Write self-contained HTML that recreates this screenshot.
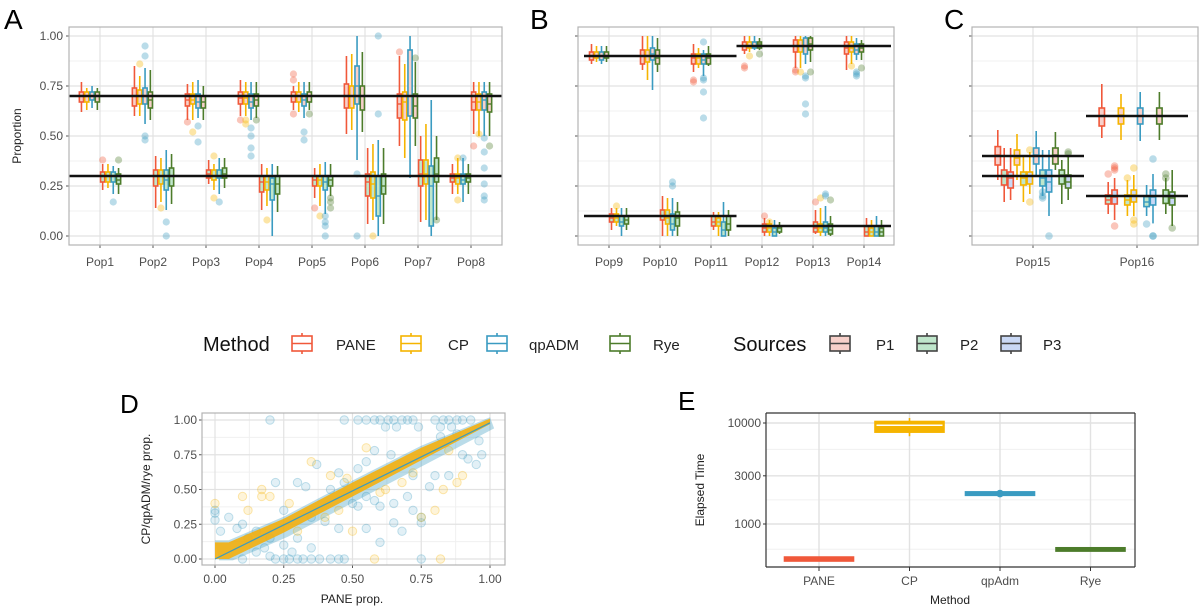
<!DOCTYPE html>
<html><head><meta charset="utf-8">
<style>
html,body{margin:0;padding:0;background:#fff;}
svg{display:block;font-family:"Liberation Sans",Arial,sans-serif;}
</style></head>
<body>
<svg id="fig" width="1200" height="612" viewBox="0 0 1200 612" xmlns="http://www.w3.org/2000/svg">
<g id="panelA"></g>
<g id="panelB"></g>
<g id="panelC"></g>
<g id="legend"></g>
<g id="panelD"></g>
<g id="panelE"></g>
</svg>
<script>
// ---------- data ----------
const methods = ['PANE','CP','qpADM','Rye'];
const methodColors = ['#f0583a','#f5b400','#3a9bc1','#4d7c2b'];
const sources = ['P1','P2','P3'];
const sourceFills = ['#f7d0ca','#bfe6cb','#c9d8f5'];
const yTicks = [0,0.25,0.5,0.75,1];
const yTickLabels = ['0.00','0.25','0.50','0.75','1.00'];

const catsA = ['Pop1','Pop2','Pop3','Pop4','Pop5','Pop6','Pop7','Pop8'];
const truthA = [0.7,0.3];
const srcA = [[0,1],[0,1],[0,1],[0,1],[0,1],[0,1],[0,1],[1,0]];
const statsA = [
 [[.62,.67,.70,.72,.77],[.63,.67,.70,.72,.74],[.64,.68,.70,.72,.75],[.63,.67,.70,.72,.74],[.23,.27,.30,.32,.36],[.24,.27,.30,.32,.36],[.21,.27,.30,.32,.35],[.21,.26,.28,.31,.34]],
 [[.60,.65,.70,.74,.85],[.60,.66,.70,.73,.80],[.56,.66,.70,.74,.84],[.58,.64,.68,.72,.83],[.14,.25,.30,.33,.40],[.17,.26,.30,.33,.39],[.13,.23,.28,.33,.43],[.16,.25,.30,.34,.41]],
 [[.58,.65,.68,.71,.76],[.58,.66,.68,.71,.77],[.59,.64,.67,.71,.78],[.58,.64,.67,.70,.75],[.26,.29,.31,.33,.38],[.23,.28,.30,.33,.36],[.21,.29,.30,.33,.39],[.24,.29,.31,.34,.39]],
 [[.60,.66,.69,.72,.78],[.60,.66,.69,.72,.77],[.58,.64,.67,.71,.77],[.59,.65,.68,.71,.77],[.13,.22,.27,.30,.36],[.15,.23,.27,.30,.34],[0,.18,.26,.29,.36],[.12,.21,.26,.30,.35]],
 [[.63,.67,.70,.72,.75],[.62,.67,.70,.72,.77],[.59,.65,.68,.71,.77],[.63,.67,.70,.72,.77],[.19,.25,.28,.30,.34],[.15,.25,.28,.30,.36],[.11,.23,.27,.30,.37],[.20,.25,.28,.30,.36]],
 [[.51,.64,.70,.76,.90],[.53,.64,.70,.75,.91],[.38,.66,.75,.85,1.0],[.52,.63,.70,.75,.92],[.06,.20,.27,.31,.44],[.08,.19,.26,.32,.46],[0,.10,.20,.30,.48],[.06,.21,.25,.31,.44]],
 [[.45,.59,.66,.71,.90],[.39,.58,.67,.72,.86],[.29,.60,.70,.93,1.0],[.45,.59,.65,.71,.87],[.07,.25,.31,.38,.50],[.08,.26,.31,.38,.56],[0,.05,.25,.35,.68],[.08,.27,.31,.39,.50]],
 [[.21,.27,.29,.31,.36],[.21,.26,.29,.31,.39],[.17,.26,.28,.31,.39],[.21,.27,.29,.31,.36],[.51,.63,.67,.72,.77],[.50,.63,.67,.71,.77],[.50,.63,.68,.72,.77],[.50,.62,.66,.71,.77]]
];
const outA = [
 [[],[],[],[],[.38],[],[.17],[.38]],
 [[],[.86],[.95,.90,.50,.48],[],[],[.14],[.07,0],[]],
 [[.57],[.52],[.55,.47],[],[],[.40,.19],[.17],[]],
 [[.58],[.58,.56],[.54,.50,.44,.40],[.58],[],[.08],[],[]],
 [[.81,.78,.61],[],[.52,.48],[.61],[.14],[.10],[.10,.07,.05,0],[.19,.17,.14]],
 [[],[],[.31,0],[],[],[0],[1.0,.61],[]],
 [[.92],[],[],[.89],[],[],[],[.08]],
 [[],[.39,.18],[.39],[],[.45],[.51],[.49,.42,.34,.26,.20,.18],[.45]]
];

const catsB = ['Pop9','Pop10','Pop11','Pop12','Pop13','Pop14'];
const truthB = [[0.9,0.1],[0.9,0.1],[0.9,0.1],[0.95,0.05],[0.95,0.05],[0.95,0.05]];
const srcB = [[0,1],[0,1],[0,1],[0,1],[0,1],[0,1]];
const statsB = [
 [[.86,.88,.90,.92,.96],[.87,.89,.90,.92,.95],[.86,.88,.90,.92,.95],[.87,.89,.90,.92,.95],[.03,.07,.09,.11,.14],[.05,.07,.09,.11,.14],[0,.05,.07,.10,.14],[.03,.06,.08,.10,.14]],
 [[.83,.86,.90,.93,1.0],[.78,.87,.90,.93,1.0],[.73,.88,.91,.94,1.0],[.82,.86,.89,.93,.99],[0,.08,.10,.13,.20],[0,.06,.09,.13,.19],[0,.03,.06,.11,.19],[0,.05,.09,.12,.17]],
 [[.82,.86,.89,.91,.96],[.84,.86,.89,.91,.94],[.80,.86,.88,.91,.93],[.85,.86,.89,.91,.95],[.03,.05,.07,.10,.12],[0,.05,.07,.09,.12],[0,0,.03,.07,.17],[0,.03,.06,.10,.13]],
 [[.91,.93,.95,.97,1.0],[.92,.94,.95,.97,1.0],[.93,.94,.95,.97,1.0],[.93,.94,.96,.97,.99],[0,.02,.04,.06,.09],[0,.02,.04,.06,.08],[0,0,.02,.04,.08],[.01,.02,.04,.05,.07]],
 [[.84,.92,.95,.98,1.0],[.84,.92,.95,.98,1.0],[.86,.91,.95,.99,1.0],[.87,.93,.96,.99,1.0],[.01,.02,.04,.07,.13],[0,.02,.04,.06,.14],[0,.02,.04,.07,.15],[0,.01,.03,.06,.10]],
 [[.83,.91,.94,.97,1.0],[.86,.92,.94,.97,1.0],[.88,.91,.93,.96,.99],[.88,.92,.94,.96,.98],[0,0,.02,.05,.09],[0,0,.02,.04,.08],[0,0,.02,.05,.10],[0,0,.02,.04,.08]]
];
const outB = [
 [[],[],[],[],[],[.15],[],[]],
 [[],[],[],[],[],[],[.27,.25],[]],
 [[.78,.77],[],[.97,.79,.78,.72,.59],[],[],[],[],[]],
 [[.85,.84],[.90],[],[.91],[.10],[.07],[],[]],
 [[.83,.82],[.82],[.80,.79,.66,.61],[.82],[.17],[.19],[.21,.20],[.18]],
 [[],[.85],[.82,.81,.80],[.84],[],[],[],[]]
];

const catsC = ['Pop15','Pop16'];
const truthC = [[0.4,0.3],[0.6,0.2]];
const statsC = [
 [[.28,.355,.405,.447,.53],[.17,.255,.297,.33,.44],[.18,.24,.29,.32,.44],
  [.28,.355,.39,.43,.51],[.17,.255,.29,.32,.40],[.21,.26,.30,.32,.42],
  [.30,.36,.405,.44,.525],[.20,.25,.29,.33,.43],[.10,.22,.27,.33,.43],
  [.33,.36,.405,.44,.52],[.16,.26,.305,.33,.38],[.18,.24,.27,.305,.40]],
 [[.49,.55,.60,.64,.76],[.11,.16,.18,.205,.27],[.08,.16,.195,.23,.29],
  [.48,.56,.605,.64,.71],[.10,.155,.18,.205,.28],[.10,.17,.205,.23,.305],
  [.475,.56,.60,.64,.72],[.10,.147,.17,.197,.255],[.063,.155,.195,.23,.31],
  [.48,.56,.60,.64,.72],[.11,.163,.197,.23,.29],[.05,.155,.19,.22,.33]]
];
const outC = [
 [[],[],[],[],[],[.43,.17],[],[.22,.20,.19],[0],[],[],[.42,.41]],
 [[],[.31],[.33,.34,.35,.05],[],[.29],[.34,.08,.06],[],[.06],[.385,0,0],[],[.31,.29],[.04]]
];

// panel D data
const dBandX  = [0,0.05,0.25,0.5,0.75,1.0];
const dBandHi = [0.12,0.12,0.29,0.55,0.80,1.01];
const dBandLo = [0.0,0.0,0.19,0.45,0.71,0.97];
const dBlueX = [0.2,0.47,0.52,0.55,0.58,0.6,0.63,0.65,0.68,0.7,0.72,0.8,0.83,0.85,0.88,0.9,0.93,0.62,0.66,0.74,0.82,0.86,0.22,0.25,0.27,0.3,0.32,0.35,0.38,0.42,0.45,0.47,0.75,0.37,0.45,0.47,0.3,0.22,0.33,0.55,0.5,0.52,0.58,0.6,0.65,0.7,0.72,0.75,0.75,0.65,0.55,0.45,0.4,0.35,0.3,0.25,0.2,0.15,0.1,0.05,0.0,0.0,0.0,0.02,0.08,0.12,0.68,0.6,0.9,0.92,0.95,0.97,0.96,0.8,0.85,0.78,0.72,0.64,0.55,0.58,0.52,0.15,0.18,0.1,0.2,0.28,0.35,0.25,0.42,0.88,0.82];
const dBlueY = [1,1,1,1,1,1,1,1,1,1,1,1,1,1,1,1,1,0.95,0.95,0.95,0.95,0.95,0,0,0,0,0,0,0,0,0,0,0,0.68,0.62,0.55,0.55,0.55,0.52,0.45,0.4,0.38,0.42,0.38,0.4,0.45,0.35,0.3,0.26,0.26,0.22,0.22,0.27,0.3,0.15,0.1,0.15,0.2,0.25,0.3,0.35,0.33,0.28,0.2,0.22,0.15,0.2,0.12,0.75,0.72,0.68,0.75,0.85,0.6,0.6,0.52,0.6,0.75,0.7,0.78,0.65,0.05,0.08,0.0,0.02,0.05,0.08,0.35,0.5,0.9,0.88];
const dOrX = [0.0,0.2,0.1,0.17,0.17,0.35,0.55,0.85,0.9,0.88,0.83,0.8,0.75,0.42,0.5,0.58,0.82,0.6,0.68,0.27,0.12,0.48,0.62,0.72,0.4,0.3,0.45];
const dOrY = [0.4,0.45,0.45,0.5,0.45,0.7,0.8,0.78,0.6,0.55,0.5,0.35,0.3,0.6,0.2,0.0,0.0,0.48,0.55,0.4,0.35,0.58,0.5,0.62,0.3,0.2,0.35];
const dTicks = [0,0.25,0.5,0.75,1];

// panel E data
const eMethods = ['PANE','CP','qpAdm','Rye'];
const eLo  = [440,7400,1950,555];
const eQ1  = [445,8400,1990,558];
const eMed = [450,9500,2000,560];
const eQ3  = [455,10000,2010,562];
const eHi  = [460,11200,2050,565];
const eTicks = [1000,3000,10000];
const eMinor = [562,1732,5477];

// ---------- helpers ----------
const NS='http://www.w3.org/2000/svg';
function mk(tag, attrs, parent){
  const e=document.createElementNS(NS,tag);
  for(const k in attrs) e.setAttribute(k,attrs[k]);
  if(parent) parent.appendChild(e);
  return e;
}
function txt(parent, x, y, s, size, anchor, fill, extra){
  const t=mk('text',Object.assign({x:x,y:y,'font-size':size,'text-anchor':anchor||'start',fill:fill||'#4d4d4d'},extra||{}),parent);
  t.textContent=s; return t;
}

function gridPanel(g, x0, x1, y0, y1, yFn, catXs, name){
  const bg=mk('rect',{x:x0,y:y0,width:x1-x0,height:y1-y0,fill:'#fff'},g);
  
  
  for(let i=0;i<yTicks.length-1;i++){
    const v=(yTicks[i]+yTicks[i+1])/2;
    mk('line',{x1:x0,x2:x1,y1:yFn(v),y2:yFn(v),stroke:'#f0f0f0','stroke-width':1},g);
  }
  yTicks.forEach(v=>{
    const l=mk('line',{x1:x0,x2:x1,y1:yFn(v),y2:yFn(v),stroke:'#e2e2e2','stroke-width':1.2},g);
    
    
    mk('line',{x1:x0-3,x2:x0,y1:yFn(v),y2:yFn(v),stroke:'#555','stroke-width':1},g);
  });
  catXs.forEach(cx=>{
    mk('line',{x1:cx,x2:cx,y1:y0,y2:y1,stroke:'#e2e2e2','stroke-width':1.2},g);
    mk('line',{x1:cx,x2:cx,y1:y1,y2:y1+3,stroke:'#555','stroke-width':1},g);
  });
}
function border(g,x0,x1,y0,y1,col,name){
  const b=mk('rect',{x:x0,y:y0,width:x1-x0,height:y1-y0,fill:'none',stroke:col||'#b3b3b3','stroke-width':1.2},g);
  
  
}
function drawBox(g, x, w, st, m, s, yFn, outs, r){
  const col=methodColors[m];
  const bx=mk('g',{},g);
  
  
  (outs||[]).forEach(v=>{
    mk('circle',{cx:x,cy:yFn(v),r:r,fill:col,'fill-opacity':0.35},bx);
  });
  mk('line',{x1:x,x2:x,y1:yFn(st[0]),y2:yFn(st[1]),stroke:col,'stroke-width':1.6},bx);
  mk('line',{x1:x,x2:x,y1:yFn(st[3]),y2:yFn(st[4]),stroke:col,'stroke-width':1.6},bx);
  const top=yFn(st[3]), bot=yFn(st[1]);
  mk('rect',{x:x-w/2,y:top,width:w,height:Math.max(bot-top,1),fill:sourceFills[s],stroke:col,'stroke-width':1.6},bx);
  mk('line',{x1:x-w/2,x2:x+w/2,y1:yFn(st[2]),y2:yFn(st[2]),stroke:col,'stroke-width':1.4},bx);
}

// ---------- Panel A ----------
(function(){
  const g=document.getElementById('panelA');
  const X0=69,X1=502,Y0=27,Y1=245;
  const y=v=>236-200*v;
  const cx=i=>100+i*53;
  gridPanel(g,X0,X1,Y0,Y1,y,catsA.map((c,i)=>cx(i)),'panel-a');
  yTicks.forEach((v,i)=>{
    const t=txt(g,X0-6,y(v)+4,yTickLabels[i],12,'end');
    
    
  });
  catsA.forEach((c,i)=>{
    const t=txt(g,cx(i),266,c,12,'middle');
    
    
    statsA[i].forEach((st,k)=>{
      const grp=Math.floor(k/4), m=k%4;
      drawBox(g,cx(i)+(k-3.5)*5.3,4.2,st,m,srcA[i][grp],y,outA[i][k],3.6);
    });
  });
  truthA.forEach(v=>{
    const l=mk('line',{x1:X0,x2:X1,y1:y(v),y2:y(v),stroke:'#111','stroke-width':2.4},g);
    
    
  });
  border(g,X0,X1,Y0,Y1,null,'panel-a');
  const yt=txt(g,0,0,'Proportion',12,'middle','#222',{transform:'translate(21,136) rotate(-90)'});
  
  
  const L=txt(g,4,29,'A',28,'start','#000');
  
  
})();

// ---------- Panel B ----------
(function(){
  const g=document.getElementById('panelB');
  const X0=578,X1=894,Y0=27,Y1=245;
  const y=v=>236-200*v;
  const cx=i=>609+i*51;
  gridPanel(g,X0,X1,Y0,Y1,y,catsB.map((c,i)=>cx(i)),'panel-b');
  catsB.forEach((c,i)=>{
    const t=txt(g,cx(i),266,c,12,'middle');
    
    
    statsB[i].forEach((st,k)=>{
      const grp=Math.floor(k/4), m=k%4;
      drawBox(g,cx(i)+(k-3.5)*5,4,st,m,srcB[i][grp],y,outB[i][k],3.6);
    });
  });
  catsB.forEach((c,i)=>{
    const xa=i===0?X0+6:cx(i)-25.5, xb=i===catsB.length-1?X1-3:cx(i)+25.5;
    truthB[i].forEach(v=>{
      const l=mk('line',{x1:xa,x2:xb,y1:y(v),y2:y(v),stroke:'#111','stroke-width':2.4},g);
      
      
    });
  });
  border(g,X0,X1,Y0,Y1,null,'panel-b');
  const L=txt(g,530,29,'B',28,'start','#000');
  
  
})();

// ---------- Panel C ----------
(function(){
  const g=document.getElementById('panelC');
  const X0=972,X1=1198,Y0=27,Y1=245;
  const y=v=>236-200*v;
  const cx=i=>1033+i*104;
  gridPanel(g,X0,X1,Y0,Y1,y,catsC.map((c,i)=>cx(i)),'panel-c');
  catsC.forEach((c,i)=>{
    const t=txt(g,cx(i),266,c,12,'middle');
    
    
    statsC[i].forEach((st,k)=>{
      const m=Math.floor(k/3), s=k%3;
      drawBox(g,cx(i)+(k-5.5)*6.4,5.4,st,m,s,y,outC[i][k],3.8);
    });
    truthC[i].forEach(v=>{
      const l=mk('line',{x1:cx(i)-51,x2:cx(i)+51,y1:y(v),y2:y(v),stroke:'#111','stroke-width':2.4},g);
      
      
    });
  });
  border(g,X0,X1,Y0,Y1,null,'panel-c');
  const L=txt(g,944,29,'C',28,'start','#000');
  
  
})();

// ---------- Legend ----------
(function(){
  const g=document.getElementById('legend');
  function key(x, col, fill, name){
    const k=mk('g',{},g);
    
    
    mk('line',{x1:x+11,x2:x+11,y1:333,y2:354,stroke:col,'stroke-width':1.6},k);
    mk('rect',{x:x+1,y:336,width:20,height:15,fill:fill,stroke:col,'stroke-width':1.6},k);
    mk('line',{x1:x+1,x2:x+21,y1:343.5,y2:343.5,stroke:col,'stroke-width':1.6},k);
  }
  let t=txt(g,203,351,'Method',20,'start','#111');
  
  
  const mkx=[291,400,486,609], mtx=[336,448,529,653];
  methods.forEach((m,i)=>{
    key(mkx[i],methodColors[i],'#fff','legend-entry-'+m.toLowerCase());
    const tt=txt(g,mtx[i],350,m,15,'start','#222');
    
    
  });
  t=txt(g,733,351,'Sources',20,'start','#111');
  
  
  const skx=[829,916,1000], stx=[876,960,1043];
  sources.forEach((s,i)=>{
    key(skx[i],'#444',sourceFills[i],'legend-entry-'+s.toLowerCase());
    const tt=txt(g,stx[i],350,s,15,'start','#222');
    
    
  });
})();

// ---------- Panel D ----------
(function(){
  const g=document.getElementById('panelD');
  const X0=202,X1=505,Y0=413,Y1=565;
  const x=v=>215+275*v, y=v=>559-139*v;
  mk('rect',{x:X0,y:Y0,width:X1-X0,height:Y1-Y0,fill:'#fff'},g);
  for(let i=0;i<dTicks.length-1;i++){
    const v=(dTicks[i]+dTicks[i+1])/2;
    mk('line',{x1:X0,x2:X1,y1:y(v),y2:y(v),stroke:'#f0f0f0'},g);
    mk('line',{x1:x(v),x2:x(v),y1:Y0,y2:Y1,stroke:'#f0f0f0'},g);
  }
  dTicks.forEach(v=>{
    mk('line',{x1:X0,x2:X1,y1:y(v),y2:y(v),stroke:'#e2e2e2','stroke-width':1.2},g);
    mk('line',{x1:x(v),x2:x(v),y1:Y0,y2:Y1,stroke:'#e2e2e2','stroke-width':1.2},g);
    mk('line',{x1:X0-3,x2:X0,y1:y(v),y2:y(v),stroke:'#555'},g);
    mk('line',{x1:x(v),x2:x(v),y1:Y1,y2:Y1+3,stroke:'#555'},g);
    let t=txt(g,X0-5,y(v)+4,v.toFixed(2),12,'end');
    
    
    t=txt(g,x(v),583,v.toFixed(2),12,'middle');
    
    
  });
  // blue fringe band (slightly wider, mostly below)
  let pts=dBandX.map((v,i)=>x(v)+','+y(Math.min(dBandHi[i]+0.015,1.02))).concat(dBandX.slice().reverse().map((v,j)=>{const i=dBandX.length-1-j;return x(v+0.015)+','+y(Math.max(dBandLo[i]-0.03,-0.01));}));
  const bb=mk('polygon',{points:pts.join(' '),fill:'#3a9bc1','fill-opacity':0.35},g);
  
  
  dBlueX.forEach((v,i)=>{
    const c=mk('circle',{cx:x(v),cy:y(dBlueY[i]),r:4.2,fill:'#3a9bc1','fill-opacity':0.15,stroke:'#3a9bc1','stroke-opacity':0.3},g);
    
    
  });
  dOrX.forEach((v,i)=>{
    const c=mk('circle',{cx:x(v),cy:y(dOrY[i]),r:4.2,fill:'#f5b400','fill-opacity':0.15,stroke:'#f5b400','stroke-opacity':0.3},g);
    
    
  });
  pts=dBandX.map((v,i)=>x(v)+','+y(dBandHi[i])).concat(dBandX.slice().reverse().map((v,j)=>x(v)+','+y(dBandLo[dBandX.length-1-j])));
  const ob=mk('polygon',{points:pts.join(' '),fill:'#f2b014','fill-opacity':0.92},g);
  
  
  const dl=mk('line',{x1:x(0),y1:y(0),x2:x(1),y2:y(0.98),stroke:'#3a9bc1','stroke-width':1.2},g);
  
  
  border(g,X0,X1,Y0,Y1,null,'panel-d');
  let t=txt(g,352,603,'PANE prop.',12,'middle','#222');
  
  
  t=txt(g,0,0,'CP/qpADM/rye prop.',12,'middle','#222',{transform:'translate(150,489) rotate(-90)'});
  
  
  t=txt(g,120,413,'D',26,'start','#000');
  
  
})();

// ---------- Panel E ----------
(function(){
  const g=document.getElementById('panelE');
  const X0=766,X1=1135,Y0=413,Y1=567;
  const y=v=>524-101*(Math.log10(v)-3);
  const cx=i=>819+i*90.5;
  mk('rect',{x:X0,y:Y0,width:X1-X0,height:Y1-Y0,fill:'#fff'},g);
  eMinor.forEach(v=>mk('line',{x1:X0,x2:X1,y1:y(v),y2:y(v),stroke:'#f0f0f0','stroke-width':1},g));
  eTicks.forEach(v=>{
    mk('line',{x1:X0,x2:X1,y1:y(v),y2:y(v),stroke:'#e2e2e2','stroke-width':1.4},g);
    mk('line',{x1:X0-3,x2:X0,y1:y(v),y2:y(v),stroke:'#333'},g);
    const t=txt(g,X0-5,y(v)+4,String(v),12,'end');
    
    
  });
  eMethods.forEach((m,i)=>{
    mk('line',{x1:cx(i),x2:cx(i),y1:Y0,y2:Y1,stroke:'#e2e2e2','stroke-width':1.4},g);
    mk('line',{x1:cx(i),x2:cx(i),y1:Y1,y2:Y1+4,stroke:'#333'},g);
    const t=txt(g,cx(i),585,m,12,'middle');
    
    
  });
  eMethods.forEach((m,i)=>{
    const col=methodColors[i];
    const bx=mk('g',{},g);
    
    
    mk('line',{x1:cx(i),x2:cx(i),y1:y(eHi[i]),y2:y(eLo[i]),stroke:col,'stroke-width':1.6},bx);
    const top=y(eQ3[i]), bot=y(eQ1[i]);
    mk('rect',{x:cx(i)-34.5,y:top-1.5,width:69,height:Math.max(bot-top,0)+3,fill:col,stroke:col,'stroke-width':1.6},bx);
    mk('line',{x1:cx(i)-33,x2:cx(i)+33,y1:y(eMed[i]),y2:y(eMed[i]),stroke:i===1?'#fff':col,'stroke-width':1.4},bx);
    if(i===2) mk('circle',{cx:cx(i),cy:y(eMed[i]),r:3.8,fill:col},bx);
  });
  mk('line',{x1:X0,x2:X0,y1:Y0,y2:Y1,stroke:'#333','stroke-width':1.2},g);
  mk('line',{x1:X0,x2:X1,y1:Y1,y2:Y1,stroke:'#333','stroke-width':1.2},g);
  mk('line',{x1:X0,x2:X1,y1:Y0,y2:Y0,stroke:'#333','stroke-width':1.2},g);
  mk('line',{x1:X1,x2:X1,y1:Y0,y2:Y1,stroke:'#333','stroke-width':1.2},g);
  let t=txt(g,950,604,'Method',12,'middle','#222');
  
  
  t=txt(g,0,0,'Elapsed Time',12,'middle','#222',{transform:'translate(704,490) rotate(-90)'});
  
  
  t=txt(g,678,410,'E',26,'start','#000');
  
  
})();
</script>
</body></html>
